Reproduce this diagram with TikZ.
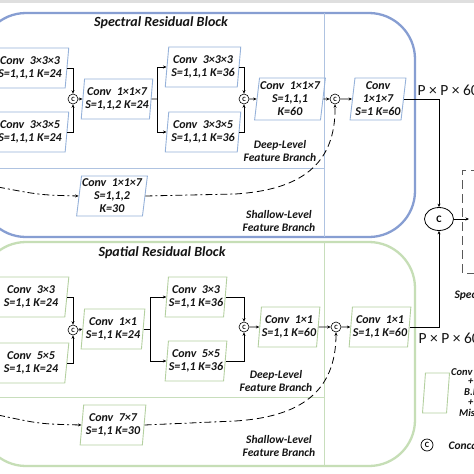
\documentclass[tikz,border=0pt]{standalone}
\usepackage{fontspec}
\setmainfont{Carlito}
\usetikzlibrary{shapes.geometric,arrows.meta}
\definecolor{boxblue}{RGB}{150,178,218}
\definecolor{blockblue}{RGB}{135,158,210}
\definecolor{thinblue}{RGB}{175,195,225}
\definecolor{boxgreen}{RGB}{180,208,160}
\definecolor{blockgreen}{RGB}{198,222,182}
\definecolor{thingreen}{RGB}{200,222,188}
\definecolor{txt}{RGB}{20,20,20}
\begin{document}
\begin{tikzpicture}[x=1pt,y=-1pt,
  pbox/.style={trapezium, trapezium left angle=82, trapezium right angle=98,
    trapezium stretches=true, line width=0.9pt, align=center, inner sep=0.5pt,
    text=txt, font=\fontsize{12}{13}\selectfont\bfseries\itshape},
  sbox/.style={pbox, draw=boxblue},
  gbox/.style={pbox, draw=boxgreen},
  cc/.style={circle, draw, line width=0.6pt, inner sep=0pt, minimum size=10pt,
    font=\fontsize{6.5}{6.5}\selectfont\bfseries},
  arr/.style={-{Stealth[length=3.5pt,width=3pt]}, line width=0.7pt},
  ln/.style={line width=0.7pt},
  dashdot/.style={line width=0.8pt, dash pattern=on 7pt off 3pt on 2pt off 3pt},
  longdash/.style={line width=0.8pt, dash pattern=on 7pt off 4pt},
  lbl/.style={align=center, text=txt, font=\fontsize{11.5}{13}\selectfont\bfseries\itshape},
  leg/.style={anchor=west, inner sep=0pt, text=txt, font=\fontsize{10.5}{11}\selectfont\bfseries\itshape},
  ttl/.style={text=txt, font=\fontsize{14}{16}\selectfont\bfseries\itshape},
  dim/.style={text=txt, anchor=west, font=\fontsize{15.5}{17}\selectfont}
]
\useasboundingbox (0,0) rectangle (474,474);
\fill[white] (0,0) rectangle (474,474);
\fill[gray!25] (0,0) rectangle (474,3);

% ---------- Spectral block ----------
\draw[blockblue, line width=2.3pt, rounded corners=46pt] (-20,13) rectangle (415,237);
\draw[thinblue, line width=0.8pt] (324,13) -- (324,237);
\draw[thinblue, line width=0.8pt] (-5,168) -- (324,168);
\node[ttl] (t1) at (161,23) {Spectral Residual Block};

\node[sbox, minimum width=78pt, minimum height=40pt] (sb1) at (30,68) {Conv\ \ 3×3×3\\S=1,1,1 K=24};
\node[sbox, minimum width=78pt, minimum height=40pt] (sb2) at (30,132) {Conv\ \ 3×3×5\\S=1,1,1 K=24};
\node[cc] (sc1) at (73,99) {C};
\node[sbox, minimum width=72pt, minimum height=40pt] (sb3) at (117,99) {Conv\ \ 1×1×7\\S=1,1,2 K=24};
\coordinate (sbr) at (157,99);
\node[sbox, minimum width=76pt, minimum height=40pt] (sb4) at (203,67) {Conv\ \ 3×3×3\\S=1,1,1 K=36};
\node[sbox, minimum width=76pt, minimum height=40pt] (sb5) at (203,132) {Conv\ \ 3×3×5\\S=1,1,1 K=36};
\node[cc] (sc2) at (244,99) {C};
\node[sbox, minimum width=66pt, minimum height=42pt] (sb6) at (290,99) {Conv\ \ 1×1×7\\S=1,1,1\\K=60};
\node[cc] (sc3) at (335,99) {C};
\node[sbox, minimum width=54pt, minimum height=42pt] (sb7) at (378,99) {Conv\\1×1×7\\S=1 K=60};
\node[sbox, minimum width=64pt, minimum height=40pt] (sbs) at (112,196) {Conv\ \ 1×1×7\\S=1,1,2\\K=30};
\node[lbl] (sdl) at (280,151) {Deep-Level\\Feature Branch};
\node[lbl] (ssl) at (279,221) {Shallow-Level\\Feature Branch};

\draw[arr] (sb1.east) -| (sc1.north);
\draw[arr] (sb2.east) -| (sc1.south);
\draw[arr] (sc1.east) -- (sb3.west);
\draw[ln] (sb3.east) -- (sbr);
\draw[arr] (sbr) |- (sb4.west);
\draw[arr] (sbr) |- (sb5.west);
\draw[arr] (sb4.east) -| (sc2.north);
\draw[arr] (sb5.east) -| (sc2.south);
\draw[arr] (sc2.east) -- (sb6.west);
\draw[arr] (sb6.east) -- (sc3.west);
\draw[arr] (sc3.east) -- (sb7.west);
\coordinate (sin) at (-2,187);
\coordinate (smid) at (235,194);
\draw[dashdot, -{Stealth[length=3.5pt,width=3pt]}] (sin) .. controls (40,195) .. (sbs.west);
\draw[dashdot] (sbs.east) -- (smid);
\draw[longdash, -{Stealth[length=3.5pt,width=3pt]}] (smid) .. controls (300,190) and (336,165) .. (sc3.south);

% ---------- Spatial block ----------
\draw[blockgreen, line width=2.3pt, rounded corners=46pt] (-20,242) rectangle (415,466);
\draw[thingreen, line width=0.8pt] (324,242) -- (324,466);
\draw[thingreen, line width=0.8pt] (-5,397) -- (324,397);
\node[ttl] (t2) at (162,253) {Spatial Residual Block};

\node[gbox, minimum width=76pt, minimum height=40pt] (pb1) at (31,297) {Conv\ \ 3×3\\S=1,1 K=24};
\node[gbox, minimum width=76pt, minimum height=40pt] (pb2) at (31,363) {Conv\ \ 5×5\\S=1,1 K=24};
\node[cc] (pc1) at (73,330) {C};
\node[gbox, minimum width=64pt, minimum height=40pt] (pb3) at (113,329) {Conv\ \ 1×1\\S=1,1 K=24};
\coordinate (pbr) at (150,329);
\node[gbox, minimum width=62pt, minimum height=40pt] (pb4) at (196,297) {Conv\ \ 3×3\\S=1,1 K=36};
\node[gbox, minimum width=62pt, minimum height=40pt] (pb5) at (196,361) {Conv\ \ 5×5\\S=1,1 K=36};
\node[cc] (pc2) at (244,327) {C};
\node[gbox, minimum width=62pt, minimum height=40pt] (pb6) at (289,327) {Conv\ \ 1×1\\S=1,1 K=60};
\node[cc] (pc3) at (336,327) {C};
\node[gbox, minimum width=62pt, minimum height=40pt] (pb7) at (380,327) {Conv\ \ 1×1\\S=1,1 K=60};
\node[gbox, minimum width=66pt, minimum height=40pt] (pbs) at (113,425) {Conv\ \ 7×7\\S=1,1 K=30};
\node[lbl] (pdl) at (276,381) {Deep-Level\\Feature Branch};
\node[lbl] (psl) at (279,446) {Shallow-Level\\Feature Branch};

\draw[arr] (pb1.east) -| (pc1.north);
\draw[arr] (pb2.east) -| (pc1.south);
\draw[arr] (pc1.east) -- (pb3.west);
\draw[ln] (pb3.east) -- (pbr);
\draw[arr] (pbr) |- (pb4.west);
\draw[arr] (pbr) |- (pb5.west);
\draw[arr] (pb4.east) -| (pc2.north);
\draw[arr] (pb5.east) -| (pc2.south);
\draw[arr] (pc2.east) -- (pb6.west);
\draw[arr] (pb6.east) -- (pc3.west);
\draw[arr] (pc3.east) -- (pb7.west);
\coordinate (pin) at (-2,415);
\coordinate (pmid) at (235,421);
\draw[dashdot, -{Stealth[length=3.5pt,width=3pt]}] (pin) .. controls (40,424) .. (pbs.west);
\draw[dashdot] (pbs.east) -- (pmid);
\draw[longdash, -{Stealth[length=3.5pt,width=3pt]}] (pmid) .. controls (300,417) and (336,392) .. (pc3.south);

% ---------- Fusion ----------
\node[ellipse, draw, line width=0.8pt, minimum width=29pt, minimum height=23pt, inner sep=0pt,
  font=\fontsize{10}{10}\selectfont\bfseries] (bc) at (439,219) {C};
\draw[arr] (sb7.east) -| (bc.north);
\draw[arr] (pb7.east) -| (bc.south);
\coordinate (out) at (469,219);
\draw[arr] (bc.east) -- (out);
\draw[line width=0.8pt, gray!70!black, dash pattern=on 9pt off 5pt] (480,170) -- (462,170) -- (462,273) -- (474,273);
\node[text=txt, anchor=west, font=\fontsize{11.5}{13}\selectfont\bfseries\itshape] (spe) at (451,295) {Spectral};
\node[dim] (d1) at (414,90) {P × P × 60};
\node[dim] (d2) at (415,338) {P × P × 60};

% ---------- Legend ----------
\node[gbox, minimum width=27pt, minimum height=40pt] (lg) at (436,393) {};
\node[leg] (l1) at (451,372) {Conv};
\node[leg] (l2) at (468,382) {+};
\node[leg] (l3) at (464,392.5) {B.N.};
\node[leg] (l4) at (468,403) {+};
\node[leg] (l5) at (459,413) {Mish};
\node[circle, draw, line width=0.7pt, minimum size=12pt, inner sep=0pt,
  font=\fontsize{8}{8}\selectfont\bfseries] (lc) at (427,445) {C};
\node[lbl, anchor=west] (lct) at (445,445) {Concatenation};
\end{tikzpicture}
\end{document}
